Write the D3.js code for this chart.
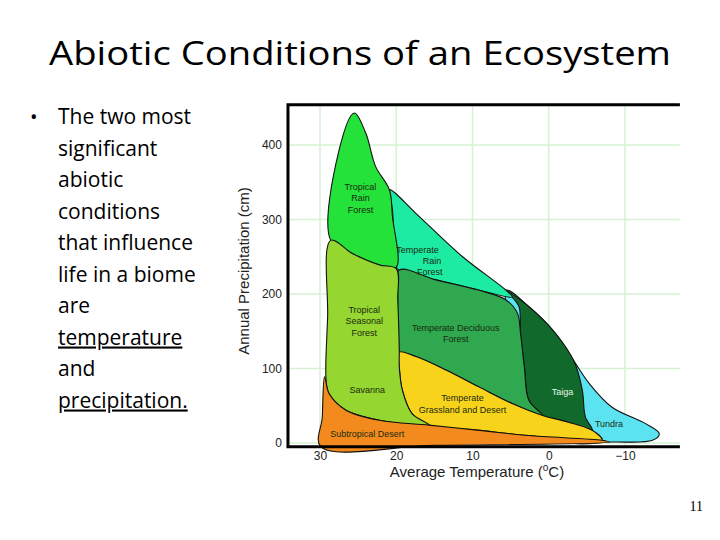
<!DOCTYPE html>
<html><head><meta charset="utf-8">
<script src="https://cdn.jsdelivr.net/npm/d3@7"></script>
<style>body{margin:0;background:#fff}</style></head>
<body><svg id="s" width="720" height="540"></svg>
<script>
const xTicks=[30,20,10,0,-10];
const yTicks=[0,100,200,300,400];
const bulletLines=["The two most","significant","abiotic","conditions","that influence","life in a biome","are","temperature","and","precipitation."];
const underlined=["temperature","precipitation"];
// biome regions: [temperature °C, precipitation cm], drawn in order
const biomeNames=["Tundra","Taiga","Temperate Rain Forest","Tropical Rain Forest","Temperate Deciduous Forest","Temperate Grassland and Desert","Tropical Seasonal Forest / Savanna","Subtropical Desert"];
const biomeColors=["#5ce3f2","#11692b","#1eeba2","#24e23a","#2fa84f","#f7d31c","#95d630","#f28a1e"];
const tundra=[[5.6,205],[2.6,183],[-0.9,147],[-3.5,107],[-5.3,80],[-8.3,48],[-12.7,26],[-14.5,12.5],[-13.6,3.6],[-8.3,1.3],[-3,0],[0,15],[3,100]];
const taiga=[[5.6,205],[2.6,183],[-0.9,147],[-3.3,110],[-4.4,71],[-4.8,35],[-5.7,17],[-1.8,30],[0.8,37],[2.6,57],[3.2,102],[3.7,147],[3.9,183],[4.8,196]];
const tempRain=[[20.9,340],[17.4,308],[11.3,250],[5.6,205],[4.8,196],[9.1,205],[14.8,219],[19.6,232],[20,236],[20.5,313]];
const tropRain=[[28.6,272],[27.5,393],[25.5,443],[24,416],[22.7,371],[20.9,340],[20.5,304],[20,236],[22.2,239],[25.7,254]];
const deciduous=[[19.6,232],[14.8,219],[9.1,205],[5.6,192],[4.1,174],[3.7,147],[3.2,102],[2.6,57],[0.8,37],[4.8,53],[9.1,75],[13.5,98],[17.4,116],[19.6,122],[19.8,192]];
const grassland=[[19.6,122],[17.4,116],[13.5,98],[9.1,75],[4.8,53],[0.8,37],[-1.8,30],[-5.7,17],[-7,3.6],[2.6,10],[9.1,17],[15.7,24],[17.9,39],[19.2,71],[19.6,102]];
const savanna=[[29.2,84],[29,169],[28.6,272],[25.7,254],[22.2,239],[20,234],[19.8,192],[19.6,124],[19.6,102],[19.2,71],[17.9,39],[15.7,24],[22.2,30.5],[26.6,44],[28.8,66]];
const desert=[[29.4,89],[28.8,66],[26.6,44],[22.2,30.5],[15.7,24],[9.1,17],[2.6,10],[-7,3.6],[-7.9,1.3],[14.8,-3],[29.9,-5],[29.7,35]];
const regions=[tundra,taiga,tempRain,tropRain,deciduous,grassland,savanna,desert];
const labels=[
 ["Tropical",24.7,344],["Rain",24.7,329],["Forest",24.7,313],
 ["Temperate",17.2,259],["Rain",15.3,244],["Forest",15.6,229],
 ["Tropical",24.2,179],["Seasonal",24.2,164],["Forest",24.2,148],
 ["Temperate Deciduous",12.2,154],["Forest",12.2,139],
 ["Savanna",23.8,71],["Temperate",11.3,60],["Grassland and Desert",11.3,44],
 ["Taiga",-1.8,69],["Tundra",-7.9,26],["Subtropical Desert",23.8,12.5]];

const svg=d3.select("#s");
svg.append("text").attr("x",360).attr("y",65).attr("text-anchor","middle")
 .attr("font-family","Open Sans").attr("font-size",33).attr("textLength",622).attr("lengthAdjust","spacingAndGlyphs").text("Abiotic Conditions of an Ecosystem");
svg.append("text").attr("x",30).attr("y",124).attr("font-family","Open Sans").attr("font-size",20).text("•");
bulletLines.forEach((l,i)=>{
 const t=svg.append("text").attr("x",58).attr("y",124+i*31.5).attr("font-family","Open Sans").attr("font-size",21).text(l);
 if(underlined.some(u=>l.startsWith(u))) t.attr("text-decoration","underline");
});
svg.append("text").attr("x",703).attr("y",511).attr("text-anchor","end").attr("font-family","Liberation Serif").attr("font-size",14).text("11");

const x=d3.scaleLinear().domain([30,-10]).range([320,625]);
const y=d3.scaleLinear().domain([0,400]).range([443,145]);
const X0=34.2,X1=-17.2,Y0=-5,Y1=454;
const g=svg.append("g");
g.append("rect").attr("x",x(X0)).attr("y",y(Y1)).attr("width",x(X1)-x(X0)).attr("height",y(Y0)-y(Y1)).attr("fill","#fff");
xTicks.forEach(t=>g.append("line").attr("x1",x(t)).attr("x2",x(t)).attr("y1",y(Y0)).attr("y2",y(Y1)).attr("stroke","#d6f2d2").attr("stroke-width",1.5));
yTicks.forEach(t=>g.append("line").attr("x1",x(X0)).attr("x2",x(X1)).attr("y1",y(t)).attr("y2",y(t)).attr("stroke","#d6f2d2").attr("stroke-width",1.5));
const line=d3.line().x(d=>x(d[0])).y(d=>y(d[1])).curve(d3.curveCatmullRomClosed.alpha(0.5));
regions.forEach((r,i)=>g.append("path").attr("d",line(r)).attr("fill",biomeColors[i]).attr("stroke","#111").attr("stroke-width",1.1).append("title").text(biomeNames[i]));
labels.forEach(l=>g.append("text").attr("x",x(l[1])).attr("y",y(l[2])+3).attr("text-anchor","middle")
 .attr("font-family","Liberation Sans").attr("font-size",9).attr("fill",l[0]==="Taiga"?"#e8f5e8":"#1a2a10").text(l[0]));
g.append("path").attr("d",`M${x(X1)},${y(Y1)}H${x(X0)}V${y(Y0)}H${x(X1)}`).attr("fill","none").attr("stroke","#000").attr("stroke-width",3);
const xa=g.append("g").attr("transform",`translate(0,${y(Y0)})`).call(d3.axisBottom(x).tickValues(xTicks).tickSize(0).tickPadding(5));
const ya=g.append("g").attr("transform",`translate(${x(X0)},0)`).call(d3.axisLeft(y).tickValues(yTicks).tickSize(0).tickPadding(6));
[xa,ya].forEach(a=>{a.select(".domain").remove();a.selectAll("text").attr("font-family","Liberation Sans").attr("font-size",12).attr("fill","#222");});
const xt=svg.append("text").attr("x",477).attr("y",477).attr("text-anchor","middle").attr("font-family","Liberation Sans").attr("font-size",15).attr("fill","#222");
xt.append("tspan").text("Average Temperature (");xt.append("tspan").attr("dy",-6).attr("font-size",10).text("o");xt.append("tspan").attr("dy",6).text("C)");
svg.append("text").attr("transform","translate(249,271) rotate(-90)").attr("text-anchor","middle").attr("font-family","Liberation Sans").attr("font-size",15).attr("fill","#222").text("Annual Precipitation (cm)");
</script></body></html>
